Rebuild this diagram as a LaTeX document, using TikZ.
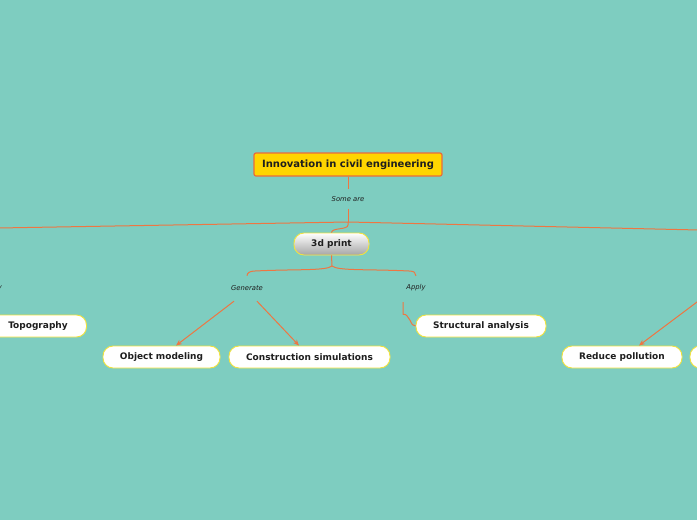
\documentclass[tikz,border=0pt]{standalone}
\usepackage{fontspec}
\setmainfont{DejaVu Sans}
\usepackage{tikz}
\usetikzlibrary{positioning, calc, arrows.meta}

\definecolor{bgteal}{RGB}{126,205,192}
\definecolor{linkorange}{RGB}{238,118,66}
\definecolor{rootgold}{RGB}{255,213,0}
\definecolor{rootedge}{RGB}{232,108,60}
\definecolor{leafedge}{RGB}{242,226,60}
\definecolor{inktext}{RGB}{30,30,30}

\begin{document}
\begin{tikzpicture}[x=1pt, y=-1pt,
        % Style definitions
        rootbox/.style={
            rectangle,
            rounded corners=2pt,
            draw=rootedge,
            line width=1.2pt,
            fill=rootgold,
            minimum width=188pt,
            minimum height=23pt,
            text=inktext,
            font=\bfseries\fontsize{10}{12}\selectfont
        },
        leaf/.style={
            rectangle,
            rounded corners=10pt,
            draw=leafedge,
            line width=0.9pt,
            fill=white,
            minimum height=22pt,
            text=inktext,
            font=\bfseries\fontsize{9}{11}\selectfont
        },
        lbl/.style={
            inner sep=0pt,
            minimum height=24pt,
            minimum width=30pt,
            text=inktext,
            font=\itshape\fontsize{6.8}{8}\selectfont
        },
        link/.style={
            draw=linkorange,
            line width=1pt
        },
        arrow/.style={
            link,
            -{Stealth[length=6pt, width=5pt]}
        }
    ]

        % background and page size
        \fill[bgteal] (0,0) rectangle (697,520);
        \useasboundingbox (0,0) rectangle (697,520);

        % ==========================================
        % Nodes / Blocks Placement
        % ==========================================
        % Central topic
        \node (root) [rootbox] at (348,164.5) {Innovation in civil engineering};

        % Label under the central topic
        \node (someare) [lbl, minimum height=19pt] at (348,199) {Some are};

        % Main child
        \node (print3d) [leaf, minimum width=75pt,
            top color=white, bottom color=black!35] at (331.5,244) {3d print};

        % Relation labels
        \node (generate) [lbl] at (247,288) {Generate};
        \node (apply) [lbl] at (416,288) {Apply};
        \node (leftlbl) [lbl, anchor=east, minimum width=0pt] at (2,288) {y};

        % Leaves
        \node (topo) [leaf, minimum width=97pt] at (38,326) {Topography};
        \node (objmod) [leaf, minimum width=117pt] at (161.5,357) {Object modeling};
        \node (consim) [leaf, minimum width=161pt] at (309.5,357) {Construction simulations};
        \node (structan) [leaf, minimum width=130pt] at (481,326) {Structural analysis};
        \node (redpol) [leaf, minimum width=120pt] at (622,357) {Reduce pollution};
        \node (offnode) [leaf, minimum width=120pt] at (750,357) {};

        % Branch points
        \coordinate (hub) at (348,222);
        \coordinate (fork) at (332,266);
        \coordinate (leftend) at (-2,228);
        \coordinate (rightend) at (699,230);
        \coordinate (offright) at (725,281);

        % ==========================================
        % Connections / Arrows
        % ==========================================
        % Central topic down to its label
        \draw [link] (root.south) -- (someare.north);
        \draw [link] (someare.south) -- (hub);

        % Spread left and right
        \draw [link] (hub) -- (leftend);
        \draw [link] (hub) -- (rightend);

        % Hub to 3d print
        \draw [link] (hub) -- ++(0,3) .. controls +(0,5) and +(0,-5) .. (print3d.north);

        % 3d print to its two labels
        \draw [link] (print3d.south) -- (fork);
        \draw [link] (fork) .. controls +(-6,5) and +(40,-2) .. (255,271)
            .. controls +(-5,0) and +(0,-3) .. (generate.north);
        \draw [link] (fork) .. controls +(6,5) and +(-40,-2) .. (409,271)
            .. controls +(5,0) and +(0,-3) .. (apply.north);

        % Generate arrows
        \draw [arrow] ([xshift=-13pt,yshift=-1pt]generate.south) -- ([xshift=14.5pt]objmod.north);
        \draw [arrow] ([xshift=10pt,yshift=-1pt]generate.south) -- ([xshift=-10.5pt]consim.north);

        % Apply to structural analysis
        \draw [link] ([xshift=-13pt,yshift=-2pt]apply.south) -- ++(0,12)
            .. controls +(4,0) and +(-3,-4) .. ++(7,6)
            .. controls +(2,4) and +(-3,0) .. (structan.west);

        % Off-page label to reduce pollution
        \draw [arrow] (offright) -- ([xshift=17pt]redpol.north);

    \end{tikzpicture}
\end{document}
